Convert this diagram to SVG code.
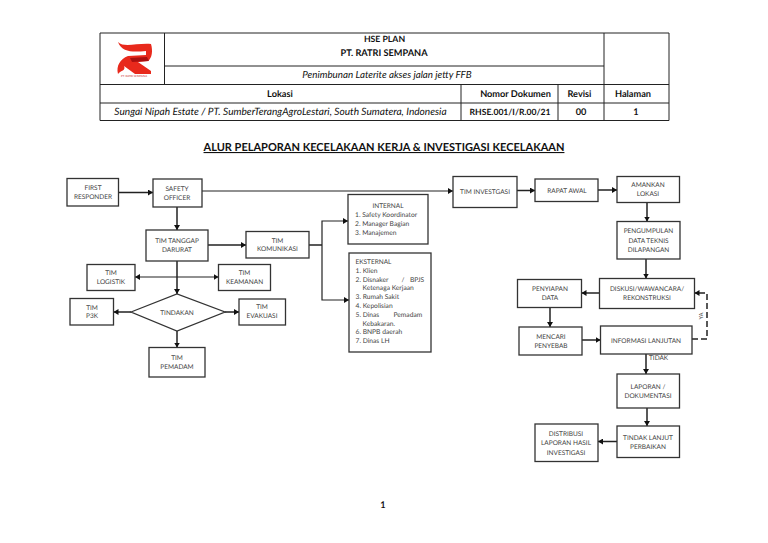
<svg xmlns="http://www.w3.org/2000/svg" width="768" height="543" viewBox="0 0 768 543">
<style>
text{font-family:Lato,"Open Sans","Liberation Sans",sans-serif;fill:#333;text-anchor:middle;text-rendering:geometricPrecision}
.h{font-size:9.200px;fill:#111}
.b{font-weight:700}
.i{font-style:italic}
.n{font-size:6.500px;fill:#444}
.l{text-anchor:start;font-size:6.700px}
.g{fill:none;stroke:#222;stroke-width:1}
.box{fill:#fff;stroke:#333;stroke-width:1.3}
.c{fill:none;stroke:#222;stroke-width:1.5}
.t{stroke-width:1.200}
</style>
<defs>
<marker id="a" markerUnits="userSpaceOnUse" markerWidth="6" markerHeight="6" refX="5" refY="3" orient="auto-start-reverse"><path d="M0 0L5 3L0 6z" fill="#111"/></marker>
</defs>
<rect width="768" height="543" fill="#fff"/>
<g id="header">
<path class="g" d="M100 33H669V120.500H100zM164.500 33V84.500M164.500 66H604M604 33V120.500M100 84.500H669M100 103H669M461 84.500V120.500M558 84.500V120.500"/>
<path d="M118 42C124 48 136 43 151 44C153 51 152 58 148 61L138 62L151 71V74H135L124 66C126 71 121 70 118 74C116 66 120 59 128 56L146 55L146 51C134 52 122 53 118 42Z" fill="#e8291c"/>
<path d="M132 62L149 61L147 57L130 58Z" fill="#a81010"/>
<text x="134" y="77" style="font-size:2.800px;fill:#c33">PT. RATRI SEMPANA</text>
<text class="h b" x="384.500" y="41.500" style="font-size:8.700px">HSE PLAN</text>
<text class="h b" x="384" y="56">PT. RATRI SEMPANA</text>
<text class="h i" x="387" y="78" style="font-size:9.800px">Penimbunan Laterite akses jalan jetty FFB</text>
<text class="h b" x="280" y="96.500">Lokasi</text>
<text class="h b" x="515.500" y="96.500">Nomor Dokumen</text>
<text class="h b" x="579.500" y="96.500">Revisi</text>
<text class="h b" x="633" y="96.500">Halaman</text>
<text class="h i" x="280.500" y="114.500" style="font-size:10.150px">Sungai Nipah Estate / PT. SumberTerangAgroLestari, South Sumatera, Indonesia</text>
<text class="h b" x="510" y="114.500" style="font-size:8.600px">RHSE.001/I/R.00/21</text>
<text class="h b" x="581" y="114.500">00</text>
<text class="h b" x="636" y="114.500">1</text>
</g>
<text id="title" x="384" y="151" class="b" style="font-size:11px;fill:#111;text-decoration:underline">ALUR PELAPORAN KECELAKAAN KERJA &amp; INVESTIGASI KECELAKAAN</text>
<g id="connectors">
<path class="c" marker-end="url(#a)" d="M118.500 192.500H153"/>
<path class="c t" marker-end="url(#a)" d="M202 191H453"/>
<path class="c" marker-end="url(#a)" d="M177 207V230"/>
<path class="c" marker-end="url(#a)" d="M208 245H246"/>
<path class="c" marker-end="url(#a)" d="M177 261V294"/>
<path class="c t" marker-start="url(#a)" marker-end="url(#a)" d="M135 277H218.500"/>
<path class="c" marker-end="url(#a)" d="M131 312H113.500"/>
<path class="c" marker-end="url(#a)" d="M225 312H239"/>
<path class="c" marker-end="url(#a)" d="M177 331V347.500"/>
<path class="c" d="M309 245H322"/>
<path class="c t" marker-end="url(#a)" d="M322 245V221H348"/>
<path class="c t" marker-end="url(#a)" d="M322 245V300H349"/>
<path class="c" marker-end="url(#a)" d="M517 190.500H535"/>
<path class="c" marker-end="url(#a)" d="M598 190H617"/>
<path class="c" marker-end="url(#a)" d="M647 202.500V221.500"/>
<path class="c" marker-end="url(#a)" d="M646 259V278.500"/>
<path class="c" marker-end="url(#a)" d="M599.500 293H581.500"/>
<path class="c" marker-end="url(#a)" d="M550 307.500V327"/>
<path class="c" marker-end="url(#a)" d="M582 340H600.500"/>
<path class="c" marker-end="url(#a)" d="M646 354V374"/>
<path class="c" marker-end="url(#a)" d="M647 408V426"/>
<path class="c" marker-end="url(#a)" d="M617 441.500H598"/>
<path class="c" stroke-dasharray="6 3" marker-end="url(#a)" d="M692 339H707V293H694.500"/>
</g>
<g id="first-responder"><rect class="box" x="67" y="178.500" width="51.500" height="27.500"/><text class="n" x="93" y="190">FIRST</text><text class="n" x="93" y="199">RESPONDER</text></g>
<g id="safety-officer"><rect class="box" x="153" y="179" width="49" height="28"/><text class="n" x="177" y="191">SAFETY</text><text class="n" x="177" y="200">OFFICER</text></g>
<g id="tim-tanggap"><rect class="box" x="146" y="230" width="62" height="31"/><text class="n" x="177" y="243">TIM TANGGAP</text><text class="n" x="177" y="252">DARURAT</text></g>
<g id="tim-komunikasi"><rect class="box" x="246" y="231.500" width="63" height="26.500"/><text class="n" x="277.500" y="243">TIM</text><text class="n" x="277.500" y="251">KOMUNIKASI</text></g>
<g id="tim-logistik"><rect class="box" x="87" y="264.500" width="48" height="26"/><text class="n" x="111" y="275">TIM</text><text class="n" x="111" y="284">LOGISTIK</text></g>
<g id="tim-keamanan"><rect class="box" x="218.500" y="264.500" width="52" height="26"/><text class="n" x="244.500" y="275">TIM</text><text class="n" x="244.500" y="284">KEAMANAN</text></g>
<g id="tim-p3k"><rect class="box" x="70" y="298.500" width="43.500" height="26.500"/><text class="n" x="92" y="310">TIM</text><text class="n" x="92" y="318">P3K</text></g>
<g id="tindakan"><path class="box" d="M131 312L177 294L225 312L177 331Z"/><text class="n" x="177" y="314.500">TINDAKAN</text></g>
<g id="tim-evakuasi"><rect class="box" x="239" y="299" width="46.500" height="26"/><text class="n" x="262" y="309">TIM</text><text class="n" x="262" y="318">EVAKUASI</text></g>
<g id="tim-pemadam"><rect class="box" x="149" y="347.500" width="56" height="29.500"/><text class="n" x="177" y="360">TIM</text><text class="n" x="177" y="369">PEMADAM</text></g>
<g id="internal"><rect class="box" x="348" y="194.500" width="80" height="49.500"/><text class="n" x="388" y="208">INTERNAL</text><text class="n l" x="355" y="217">1. Safety Koordinator</text><text class="n l" x="355" y="226">2. Manager Bagian</text><text class="n l" x="355" y="235">3. Manajemen</text></g>
<g id="eksternal"><rect class="box" x="349" y="253" width="82" height="99"/>
<text class="n l" x="355.500" y="264" style="font-size:6.500px">EKSTERNAL</text>
<text class="n l" x="355.500" y="273">1. Klien</text>
<text class="n l" x="355.500" y="282">2. Disnaker</text><text class="n" x="403" y="282">/</text><text class="n l" x="410" y="282">BPJS</text>
<text class="n l" x="362.500" y="290">Ketenaga Kerjaan</text>
<text class="n l" x="355.500" y="299">3. Rumah Sakit</text>
<text class="n l" x="355.500" y="308">4. Kepolisian</text>
<text class="n l" x="355.500" y="317">5. Dinas</text><text class="n l" x="393.500" y="317">Pemadam</text>
<text class="n l" x="362.500" y="326">Kebakaran.</text>
<text class="n l" x="355.500" y="334">6. BNPB daerah</text>
<text class="n l" x="355.500" y="343">7. Dinas LH</text></g>
<g id="tim-investigasi"><rect class="box" x="453" y="176.500" width="64" height="31"/><text class="n" x="485" y="194">TIM INVESTGASI</text></g>
<g id="rapat-awal"><rect class="box" x="535" y="179" width="63" height="22.500"/><text class="n" x="567" y="193">RAPAT AWAL</text></g>
<g id="amankan"><rect class="box" x="617" y="176.500" width="62.500" height="26"/><text class="n" x="648" y="187">AMANKAN</text><text class="n" x="648" y="196">LOKASI</text></g>
<g id="pengumpulan"><rect class="box" x="617" y="221.500" width="63" height="37.500"/><text class="n" x="648.500" y="233">PENGUMPULAN</text><text class="n" x="648.500" y="243">DATA TEKNIS</text><text class="n" x="648.500" y="252">DILAPANGAN</text></g>
<g id="diskusi"><rect class="box" x="599.500" y="278.500" width="95" height="30"/><text class="n" x="647" y="291">DISKUSI/WAWANCARA/</text><text class="n" x="647" y="300">REKONSTRUKSI</text></g>
<g id="penyiapan"><rect class="box" x="517.500" y="279.500" width="64" height="28"/><text class="n" x="550" y="291">PENYIAPAN</text><text class="n" x="550" y="300">DATA</text></g>
<g id="mencari"><rect class="box" x="519" y="327" width="63" height="28"/><text class="n" x="551" y="339">MENCARI</text><text class="n" x="551" y="348">PENYEBAB</text></g>
<g id="informasi"><rect class="box" x="600.500" y="326" width="91.500" height="28"/><text class="n" x="646" y="342.500">INFORMASI LANJUTAN</text></g>
<g id="laporan"><rect class="box" x="617" y="374" width="62.500" height="34"/><text class="n" x="648" y="389">LAPORAN /</text><text class="n" x="648" y="398">DOKUMENTASI</text></g>
<g id="tindak-lanjut"><rect class="box" x="617" y="426" width="62.500" height="31.500"/><text class="n" x="648" y="439.500">TINDAK LANJUT</text><text class="n" x="648" y="448.500">PERBAIKAN</text></g>
<g id="distribusi"><rect class="box" x="535" y="424" width="63" height="37.500"/><text class="n" x="566" y="436">DISTRIBUSI</text><text class="n" x="566" y="445">LAPORAN HASIL</text><text class="n" x="566" y="454.500">INVESTIGASI</text></g>
<text class="n l" x="649" y="360" style="font-size:6.500px">TIDAK</text>
<text class="n" transform="translate(703 316) rotate(-90)" style="font-size:5.500px">YA</text>
<text class="h b" x="383" y="508">1</text>
</svg>
